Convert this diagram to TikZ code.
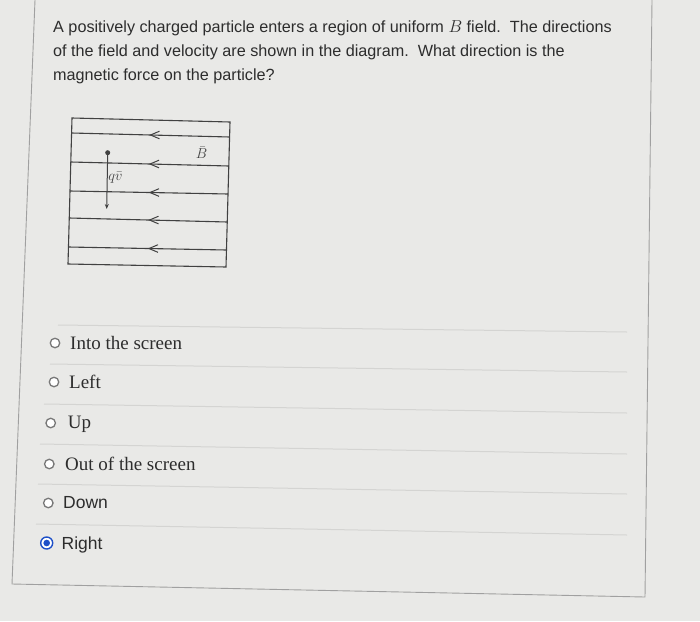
\documentclass[tikz,border=0pt]{standalone}
\usepackage{fontspec}
\setmainfont{Liberation Sans}
\newfontfamily\serif{Liberation Serif}
\usetikzlibrary{arrows.meta}
\definecolor{bg}{RGB}{233,233,231}
\definecolor{txt}{RGB}{45,45,45}
\definecolor{frm}{RGB}{160,160,160}
\definecolor{sep}{RGB}{212,212,210}
\definecolor{ink}{RGB}{65,65,65}
\definecolor{radio}{RGB}{120,120,120}
\definecolor{sel}{RGB}{30,80,200}
\tikzset{
  qtext/.style={anchor=base west, inner sep=0pt, text=txt, font=\fontsize{16.2}{19}\selectfont},
  sopt/.style={anchor=base west, inner sep=0pt, text=txt, font=\serif\fontsize{19}{22}\selectfont},
  aopt/.style={anchor=base west, inner sep=0pt, text=txt, font=\fontsize{17.5}{20}\selectfont},
  radiobtn/.style={circle, draw=radio, line width=1.3pt, fill=white, minimum size=9.5pt, inner sep=0pt},
  fieldline/.style={draw=ink, line width=1.1pt},
  chev/.style={draw=ink, line width=1pt},
  sepline/.style={draw=sep, line width=1pt},
  framel/.style={draw=frm, line width=0.9pt},
  lbl/.style={inner sep=0pt, text=ink, font=\fontsize{14}{15}\selectfont}
}
\begin{document}
\begin{tikzpicture}[x=1pt,y=-1pt]
\useasboundingbox (0,0) rectangle (700,621);
\fill[bg] (0,0) rectangle (700,621);
% outer frame
\coordinate (ftl) at (35,0);
\coordinate (fbl) at (12,584);
\coordinate (fbr) at (645,597);
\coordinate (ftr) at (652,0);
\draw[framel] (ftl) -- (fbl) -- (fbr) -- (ftr);
% question
\node[qtext] (q1) at (53,32) {A positively charged particle enters a region of uniform $B$ field.\ \ The directions};
\node[qtext] (q2) at (53,56) {of the field and velocity are shown in the diagram.\ \ What direction is the};
\node[qtext] (q3) at (53,80) {magnetic force on the particle?};
% diagram
\coordinate (btl) at (72,118);
\coordinate (btr) at (230,122);
\coordinate (bbr) at (226,267);
\coordinate (bbl) at (68,264);
\draw[fieldline] (btl) -- (btr) -- (bbr) -- (bbl) -- cycle;
\foreach \ya/\yb/\t in {133/137/150.5,162/166/150,191/194/150,218/222/149.5,247/250/149}{
  \pgfmathsetmacro{\xa}{72-4*(\ya-118)/146}
  \pgfmathsetmacro{\xb}{230-4*(\yb-122)/145}
  \pgfmathsetmacro{\ym}{\ya+(\yb-\ya)*(\t-\xa)/(\xb-\xa)}
  \draw[fieldline] (\xa,\ya) -- (\xb,\yb);
  \draw[chev] (\t+9,\ym-3.8) -- (\t,\ym) -- (\t+9,\ym+3.8);
}
\node[lbl] (bl) at (201.5,153) {$\bar{B}$};
\coordinate (pdot) at (107.7,152.7);
\coordinate (vend) at (106.7,209);
\fill[ink] (pdot) circle (2.5);
\draw[ink, line width=1pt, -{Stealth[length=5pt,width=4pt]}] (pdot) -- (vend);
\node[lbl] (qv) at (115.5,178) {$q\bar{v}$};
% separator lines
\foreach \ya/\yb/\xa in {325/332/58,364/372/50,404/413/44,444/454/40,484/494/38,524/535/36}{
  \draw[sepline] (\xa,\ya) -- (627,\yb);
}
% options
\node[radiobtn] (r1) at (55,343) {};
\node[sopt] (o1) at (70,349.3) {Into the screen};
\node[radiobtn] (r2) at (54,382) {};
\node[sopt] (o2) at (69,388) {Left};
\node[radiobtn] (r3) at (50.7,423) {};
\node[sopt] (o3) at (67.7,428) {Up};
\node[radiobtn] (r4) at (49.3,464) {};
\node[sopt] (o4) at (65,470) {Out of the screen};
\node[radiobtn] (r5) at (48.3,503) {};
\node[aopt] (o5) at (63,508.5) {Down};
\node[circle, draw=sel, line width=1.4pt, fill=white, minimum size=12pt, inner sep=0pt] (r6) at (46.7,543) {};
\fill[sel] (r6.center) circle (3.3);
\node[aopt] (o6) at (61.5,549) {Right};
\end{tikzpicture}
\end{document}
